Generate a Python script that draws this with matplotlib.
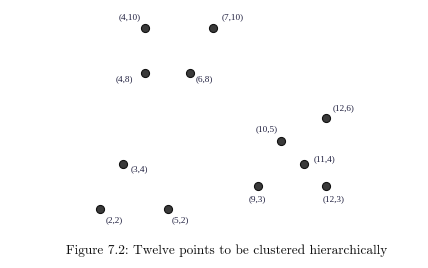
import matplotlib
matplotlib.use('Agg')
import matplotlib.pyplot as plt

xs = [4, 7, 4, 6, 12, 10, 11, 3, 2, 5, 9, 12]
ys = [10, 10, 8, 8, 6, 5, 4, 4, 2, 2, 3, 3]
labels = ['(4,10)', '(7,10)', '(4,8)', '(6,8)', '(12,6)', '(10,5)',
          '(11,4)', '(3,4)', '(2,2)', '(5,2)', '(9,3)', '(12,3)']
# label offsets in pixels (dx right, dy down)
offs = [(-15, -11), (20, -11), (-21, 6), (14, 6), (17, -10), (-14, -12),
        (21, -5), (17, 5), (14, 11), (13, 11), (-1, 13), (7, 13)]
caption = 'Figure 7.2: Twelve points to be clustered hierarchically'

size = 428, 268
dpi = 100.0
fig = plt.figure(figsize=(size[0]/dpi, size[1]/dpi), dpi=dpi)
ax = fig.add_axes([0, 0, 1, 1])
ax.set_xlim(-2.41, 16.49)
ax.set_ylim(-0.60, 11.23)
ax.axis('off')

ax.plot(xs, ys, 'o', markersize=5.8, markerfacecolor='#3a3a3a',
        markeredgecolor='#111111', markeredgewidth=0.8)
for x, y, lab, (dx, dy) in zip(xs, ys, labels, offs):
    ax.annotate(lab, (x, y), xytext=(dx, -dy), textcoords='offset pixels',
                ha='center', va='center', fontsize=6.6,
                family='Liberation Serif', color='#1c1c3c')

fig.text(227/428, 1 - 250.5/268, caption, ha='center', va='center',
         fontsize=9.6, family='cmr10', color='#111111')

fig.savefig('out.png', dpi=dpi)
